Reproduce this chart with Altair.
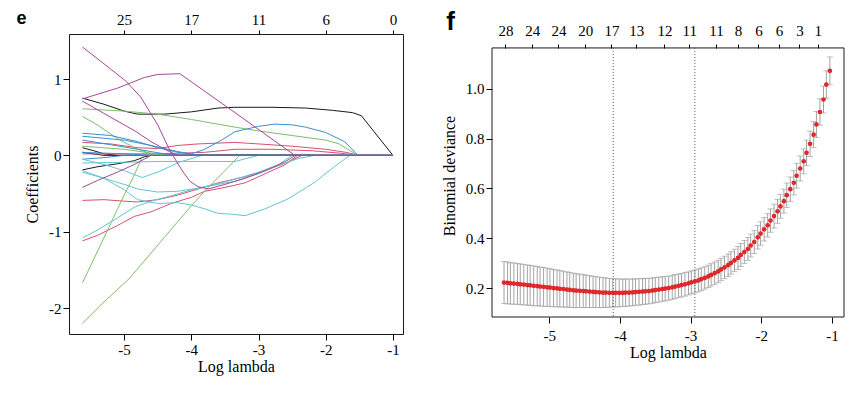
import altair as alt
import pandas as pd

# ---------------- Panel e: LASSO coefficient paths (log lambda, coefficient) ----------------
BLACK_PATHS = [
    [(-5.62, 0.75), (-5.3, 0.67), (-5.0, 0.58), (-4.8, 0.54), (-4.4, 0.54), (-4.0, 0.57), (-3.6, 0.62),
     (-3.35, 0.63), (-2.8, 0.63), (-2.3, 0.62), (-1.9, 0.59), (-1.6, 0.56), (-1.47, 0.52), (-1.0, 0.0)],
    [(-5.62, 0.10), (-5.45, 0.06), (-5.3, 0.02), (-5.1, 0.0), (-1.0, 0.0)],
    [(-5.62, -0.19), (-5.4, -0.15), (-5.1, -0.11), (-4.85, -0.07), (-4.7, -0.02), (-4.6, 0.0), (-3.5, 0.01),
     (-2.3, 0.01), (-2.0, 0.0), (-1.0, 0.0)],
    [(-5.62, 0.04), (-5.3, 0.0), (-1.0, 0.0)],
]
RED_PATHS = [
    [(-5.62, 0.17), (-5.2, 0.15), (-4.8, 0.10), (-4.5, 0.09), (-4.2, 0.13), (-3.9, 0.15), (-3.35, 0.17),
     (-3.0, 0.15), (-2.5, 0.12), (-2.0, 0.08), (-1.7, 0.04), (-1.5, 0.0), (-1.0, 0.0)],
    [(-5.62, 0.02), (-4.5, 0.02), (-3.8, 0.04), (-3.35, 0.08), (-2.8, 0.08), (-2.2, 0.06), (-1.8, 0.03),
     (-1.5, 0.0), (-1.0, 0.0)],
    [(-5.62, -0.59), (-5.3, -0.58), (-5.0, -0.60), (-4.8, -0.61), (-4.5, -0.58), (-4.2, -0.52), (-3.9, -0.44),
     (-3.6, -0.36), (-3.2, -0.28), (-2.9, -0.2), (-2.6, -0.1), (-2.35, 0.0), (-1.0, 0.0)],
    [(-5.62, -1.12), (-5.4, -1.05), (-5.1, -0.92), (-4.85, -0.80), (-4.6, -0.74), (-4.3, -0.63), (-4.0, -0.55),
     (-3.8, -0.47), (-3.5, -0.42), (-3.2, -0.36), (-2.9, -0.24), (-2.6, -0.12), (-2.42, 0.0), (-1.0, 0.0)],
]
GREEN_PATHS = [
    [(-5.62, 0.61), (-5.0, 0.58), (-4.5, 0.54), (-4.0, 0.47), (-3.35, 0.37), (-3.0, 0.32), (-2.5, 0.26),
     (-2.0, 0.20), (-1.8, 0.15), (-1.52, 0.0), (-1.0, 0.0)],
    [(-5.62, 0.51), (-5.4, 0.40), (-5.1, 0.22), (-4.85, 0.10), (-4.6, 0.02), (-4.4, 0.0), (-1.0, 0.0)],
    [(-5.62, -1.67), (-5.3, -1.08), (-5.0, -0.52), (-4.86, -0.28), (-4.72, 0.0), (-1.0, 0.0)],
    [(-5.62, -2.2), (-5.3, -1.92), (-4.93, -1.62), (-4.6, -1.28), (-4.3, -0.97), (-4.0, -0.66), (-3.77, -0.44),
     (-3.5, -0.2), (-3.28, 0.0), (-1.0, 0.0)],
    [(-5.62, 0.12), (-5.0, 0.08), (-4.6, 0.03), (-4.3, 0.0), (-1.0, 0.0)],
]
BLUE_PATHS = [
    [(-5.62, 0.29), (-5.2, 0.26), (-4.8, 0.18), (-4.5, 0.10), (-4.2, 0.04), (-4.0, 0.02), (-3.8, 0.08),
     (-3.55, 0.20), (-3.35, 0.31), (-3.0, 0.38), (-2.76, 0.41), (-2.5, 0.40), (-2.3, 0.37), (-2.0, 0.30),
     (-1.72, 0.18), (-1.52, 0.0), (-1.0, 0.0)],
    [(-5.62, 0.25), (-5.0, 0.20), (-4.6, 0.13), (-4.2, 0.05), (-3.9, 0.0), (-1.0, 0.0)],
    [(-5.62, 0.20), (-5.2, 0.14), (-4.8, 0.08), (-4.4, 0.02), (-4.2, 0.0), (-1.0, 0.0)],
    [(-5.62, 0.04), (-5.0, 0.02), (-4.6, 0.0), (-1.0, 0.0)],
    [(-5.62, -0.05), (-5.3, -0.03), (-5.0, 0.0), (-1.0, 0.0)],
]
CYAN_PATHS = [
    [(-5.62, -0.05), (-5.3, -0.12), (-5.0, -0.20), (-4.73, -0.29), (-4.5, -0.22), (-4.18, -0.09),
     (-3.84, 0.0), (-1.0, 0.0)],
    [(-5.62, -0.22), (-5.3, -0.30), (-5.0, -0.38), (-4.8, -0.44), (-4.5, -0.48), (-4.2, -0.47), (-3.9, -0.43),
     (-3.6, -0.38), (-3.35, -0.34), (-3.0, -0.24), (-2.7, -0.13), (-2.4, -0.04), (-2.16, 0.0), (-1.0, 0.0)],
    [(-5.62, -0.20), (-5.3, -0.30), (-5.0, -0.45), (-4.8, -0.58), (-4.5, -0.63), (-4.2, -0.62), (-4.0, -0.65),
     (-3.8, -0.70), (-3.6, -0.76), (-3.4, -0.77), (-3.2, -0.79), (-2.9, -0.70), (-2.56, -0.57), (-2.16, -0.35),
     (-1.86, -0.14), (-1.64, 0.0), (-1.0, 0.0)],
    [(-5.62, -1.08), (-5.4, -0.98), (-5.1, -0.82), (-4.85, -0.68), (-4.6, -0.60), (-4.3, -0.53), (-4.0, -0.45),
     (-3.6, -0.37), (-3.3, -0.30), (-3.0, -0.22), (-2.7, -0.12), (-2.5, 0.0), (-1.0, 0.0)],
    [(-5.62, -0.10), (-5.0, -0.09), (-4.5, -0.08), (-3.8, -0.08), (-3.35, -0.08), (-3.0, 0.0), (-1.0, 0.0)],
]
PURPLE_PATHS = [
    [(-5.62, 1.42), (-5.3, 1.20), (-4.97, 0.97), (-4.75, 0.76), (-4.5, 0.40), (-4.35, 0.12), (-4.22, -0.08),
     (-4.12, -0.22), (-4.02, -0.34), (-3.9, -0.41), (-3.75, -0.44), (-3.5, -0.38), (-3.2, -0.30),
     (-2.9, -0.20), (-2.6, -0.08), (-2.45, 0.0), (-1.0, 0.0)],
    [(-5.62, 0.74), (-5.4, 0.80), (-5.1, 0.88), (-4.9, 0.95), (-4.7, 1.02), (-4.5, 1.06), (-4.17, 1.07),
     (-3.35, 0.56), (-2.46, 0.0), (-1.0, 0.0)],
    [(-5.62, 0.71), (-5.3, 0.55), (-5.0, 0.40), (-4.82, 0.31), (-4.6, 0.18), (-4.33, 0.05), (-4.2, 0.0),
     (-1.0, 0.0)],
    [(-5.62, -0.42), (-5.4, -0.33), (-5.1, -0.22), (-4.85, -0.12), (-4.7, -0.05), (-4.6, 0.0), (-1.0, 0.0)],
]
PALETTE = {
    "black": "#1a1a1a", "red": "#d9506e", "green": "#7cbf6e",
    "blue": "#3a8fd0", "cyan": "#62c6d4", "purple": "#a8479a",
}
TOP_E_POS = [-5, -4, -3, -2, -1]
TOP_E_LAB = ["25", "17", "11", "6", "0"]

# ---------------- Panel f: cross-validation curve ----------------
LOGLAM_F = [
    -1.03, -1.08, -1.12, -1.17, -1.22, -1.26, -1.31, -1.36, -1.40, -1.45,
    -1.50, -1.54, -1.59, -1.64, -1.68, -1.73, -1.77, -1.82, -1.87, -1.91,
    -1.96, -2.01, -2.05, -2.10, -2.15, -2.19, -2.24, -2.29, -2.33, -2.38,
    -2.43, -2.47, -2.52, -2.57, -2.61, -2.66, -2.71, -2.75, -2.80, -2.85,
    -2.89, -2.94, -2.99, -3.03, -3.08, -3.13, -3.17, -3.22, -3.26, -3.31,
    -3.36, -3.40, -3.45, -3.50, -3.54, -3.59, -3.64, -3.68, -3.73, -3.78,
    -3.82, -3.87, -3.92, -3.96, -4.01, -4.06, -4.10, -4.15, -4.20, -4.24,
    -4.29, -4.34, -4.38, -4.43, -4.48, -4.52, -4.57, -4.62, -4.66, -4.71,
    -4.75, -4.80, -4.85, -4.89, -4.94, -4.99, -5.03, -5.08, -5.13, -5.17,
    -5.22, -5.27, -5.31, -5.36, -5.41, -5.45, -5.50, -5.55, -5.59, -5.64,
]
DEV_MEAN = [
    1.072, 1.017, 0.957, 0.907, 0.857, 0.816, 0.779, 0.743, 0.709, 0.680,
    0.651, 0.623, 0.597, 0.573, 0.549, 0.528, 0.508, 0.489, 0.471, 0.452,
    0.436, 0.419, 0.404, 0.385, 0.371, 0.357, 0.345, 0.333, 0.321, 0.311,
    0.301, 0.292, 0.283, 0.275, 0.267, 0.260, 0.253, 0.247, 0.241, 0.236,
    0.231, 0.227, 0.223, 0.219, 0.215, 0.212, 0.209, 0.206, 0.203, 0.200,
    0.198, 0.196, 0.194, 0.192, 0.190, 0.188, 0.187, 0.186, 0.185, 0.184,
    0.183, 0.182, 0.182, 0.181, 0.181, 0.181, 0.181, 0.181, 0.182, 0.182,
    0.183, 0.184, 0.185, 0.186, 0.187, 0.188, 0.189, 0.190, 0.191, 0.193,
    0.194, 0.196, 0.197, 0.199, 0.200, 0.202, 0.203, 0.205, 0.206, 0.208,
    0.209, 0.211, 0.212, 0.214, 0.215, 0.217, 0.218, 0.219, 0.221, 0.222,
]
DEV_SD = [
    0.056, 0.055, 0.054, 0.053, 0.052, 0.052, 0.051, 0.051, 0.050, 0.050,
    0.050, 0.049, 0.049, 0.049, 0.048, 0.048, 0.048, 0.048, 0.047, 0.047,
    0.047, 0.047, 0.047, 0.046, 0.046, 0.046, 0.046, 0.046, 0.046, 0.045,
    0.045, 0.045, 0.045, 0.045, 0.045, 0.045, 0.045, 0.045, 0.045, 0.045,
    0.046, 0.046, 0.046, 0.046, 0.047, 0.047, 0.047, 0.048, 0.048, 0.048,
    0.049, 0.049, 0.050, 0.050, 0.051, 0.051, 0.052, 0.052, 0.053, 0.053,
    0.054, 0.054, 0.055, 0.055, 0.056, 0.056, 0.057, 0.058, 0.059, 0.060,
    0.061, 0.062, 0.063, 0.064, 0.065, 0.066, 0.067, 0.068, 0.069, 0.070,
    0.071, 0.072, 0.073, 0.074, 0.075, 0.076, 0.077, 0.078, 0.078, 0.079,
    0.080, 0.080, 0.081, 0.081, 0.082, 0.082, 0.083, 0.083, 0.084, 0.084,
]
LAMBDA_LINES = [-4.095, -2.94]
TOP_F_POS = [-5.62, -5.24, -4.87, -4.49, -4.12, -3.77, -3.37, -3.02, -2.64, -2.33, -2.04, -1.75, -1.46, -1.20]
TOP_F_LAB = ["28", "24", "24", "20", "17", "13", "12", "11", "11", "8", "6", "6", "3", "1"]
# plotting frame of panel f (log lambda range, deviance range)
F_X_RANGE = [-5.81, -0.83]
F_Y_RANGE = [0.084, 1.164]

SERIF = "Liberation Serif"

# ---------- build tables ----------
rows = []
for cname, paths in [("black", BLACK_PATHS), ("red", RED_PATHS), ("green", GREEN_PATHS),
                     ("blue", BLUE_PATHS), ("cyan", CYAN_PATHS), ("purple", PURPLE_PATHS)]:
    for k, path in enumerate(paths):
        for order, (x, y) in enumerate(path):
            rows.append({"id": f"{cname}{k}", "col": PALETTE[cname], "x": x, "y": y, "o": order})
df_e = pd.DataFrame(rows)
df_top_e = pd.DataFrame({"x": TOP_E_POS})

df_f = pd.DataFrame({"x": LOGLAM_F, "m": DEV_MEAN, "sd": DEV_SD})
df_f["lo"] = df_f["m"] - df_f["sd"]
df_f["hi"] = df_f["m"] + df_f["sd"]
df_vl = pd.DataFrame({"x": LAMBDA_LINES, "y": F_Y_RANGE[1], "y2": F_Y_RANGE[0]})
df_frame = pd.DataFrame({"x": [F_X_RANGE[0]], "x2": [F_X_RANGE[1]], "y": [F_Y_RANGE[0]], "y2": [F_Y_RANGE[1]]})


def js_list(vals):
    return "[" + ",".join(repr(v) if not isinstance(v, str) else "'" + v + "'" for v in vals) + "]"


# ---------- panel e ----------
xs_e = alt.Scale(domain=[-5.82, -0.85], nice=False, zero=False)
ys_e = alt.Scale(domain=[-2.34, 1.59], nice=False, zero=False)
x_bottom_e = alt.Axis(orient="bottom", values=[-5, -4, -3, -2, -1], title="Log lambda",
                      labelExpr="toString(datum.value)")
y_axis_e = alt.Axis(values=[1, 0, -1, -2], title="Coefficients", labelExpr="toString(datum.value)",
                    titlePadding=8)

lines = alt.Chart(df_e).mark_line(strokeWidth=1).encode(
    x=alt.X("x:Q", scale=xs_e, axis=x_bottom_e),
    y=alt.Y("y:Q", scale=ys_e, axis=y_axis_e),
    detail="id:N",
    order="o:Q",
    color=alt.Color("col:N", scale=None),
)
top_e = alt.Chart(df_top_e).mark_tick(opacity=0).encode(
    x=alt.X("x:Q", scale=xs_e, axis=alt.Axis(
        orient="top", values=TOP_E_POS, title=None, tickSize=4, labelPadding=3,
        labelExpr=js_list(TOP_E_LAB) + "[indexof(" + js_list(TOP_E_POS) + ", datum.value)]")),
)
panel_e = alt.layer(lines, top_e).resolve_axis(x="independent").properties(
    width=334, height=300,
    title=alt.TitleParams("e", anchor="start", font="Liberation Sans", fontSize=18, fontWeight="bold",
                          dx=-8, offset=-16),
)

# ---------- panel f ----------
# The plot area is 14 px taller than the frame; the frame, dotted lines and top axis sit inside it.
xs_f = alt.Scale(domain=F_X_RANGE, nice=False, zero=False)
ys_f = alt.Scale(domain=[F_Y_RANGE[0], 1.22], nice=False, zero=False)
y_axis_f = alt.Axis(values=[0.2, 0.4, 0.6, 0.8, 1.0], format=".1f", title="Binomial deviance",
                    titlePadding=8)
x_bottom_f = alt.Axis(orient="bottom", values=[-5, -4, -3, -2, -1], title="Log lambda",
                      labelExpr="toString(datum.value)", labelPadding=5)

frame = alt.Chart(df_frame).mark_rect(fill=None, stroke="#1a1a1a", strokeWidth=1).encode(
    x=alt.X("x:Q", scale=xs_f, axis=x_bottom_f),
    x2="x2:Q",
    y=alt.Y("y:Q", scale=ys_f, axis=y_axis_f),
    y2="y2:Q",
)
bars = alt.Chart(df_f).mark_rule(color="#a3a3a3", strokeWidth=1).encode(
    x=alt.X("x:Q", scale=xs_f, axis=None),
    y=alt.Y("lo:Q", scale=ys_f, axis=y_axis_f),
    y2="hi:Q",
)
cap_lo = alt.Chart(df_f).mark_tick(color="#a3a3a3", orient="horizontal", size=6, thickness=1).encode(
    x=alt.X("x:Q", scale=xs_f, axis=None),
    y=alt.Y("lo:Q", scale=ys_f, axis=y_axis_f),
)
cap_hi = alt.Chart(df_f).mark_tick(color="#a3a3a3", orient="horizontal", size=6, thickness=1).encode(
    x=alt.X("x:Q", scale=xs_f, axis=None),
    y=alt.Y("hi:Q", scale=ys_f, axis=y_axis_f),
)
pts = alt.Chart(df_f).mark_circle(color="#e0282c", size=22, opacity=1).encode(
    x=alt.X("x:Q", scale=xs_f, axis=None),
    y=alt.Y("m:Q", scale=ys_f, axis=y_axis_f),
)
vlines = alt.Chart(df_vl).mark_rule(color="#555555", strokeDash=[1, 2], strokeWidth=1).encode(
    x=alt.X("x:Q", scale=xs_f, axis=alt.Axis(
        orient="top", values=TOP_F_POS, title=None, tickSize=4, labelPadding=6, offset=-14,
        labelExpr=js_list(TOP_F_LAB) + "[indexof(" + js_list(TOP_F_POS) + ", datum.value)]")),
    y=alt.Y("y:Q", scale=ys_f, axis=y_axis_f),
    y2="y2:Q",
)
panel_f = alt.layer(frame, bars, cap_lo, cap_hi, pts, vlines).resolve_axis(x="independent").properties(
    width=352, height=283,
    view=alt.ViewBackground(stroke="transparent"),
    title=alt.TitleParams("f", anchor="start", font="Liberation Sans", fontSize=26, fontWeight="bold",
                          dx=5, offset=-12),
)

chart = alt.hconcat(panel_e, panel_f, spacing=36).properties(
    padding={"left": 8, "top": 0, "right": 5, "bottom": 5},
    background="white",
).configure_view(stroke="#1a1a1a", strokeWidth=1).configure_axis(
    labelFont=SERIF, labelFontSize=15, labelColor="black",
    titleFont=SERIF, titleFontSize=16, titleFontWeight="normal", titleColor="black",
    tickColor="black", tickSize=6, labelPadding=2, titlePadding=1, grid=False, domain=False,
).configure_title(color="black")

chart.save("out.html", embed_options={"renderer": "svg", "actions": False})
